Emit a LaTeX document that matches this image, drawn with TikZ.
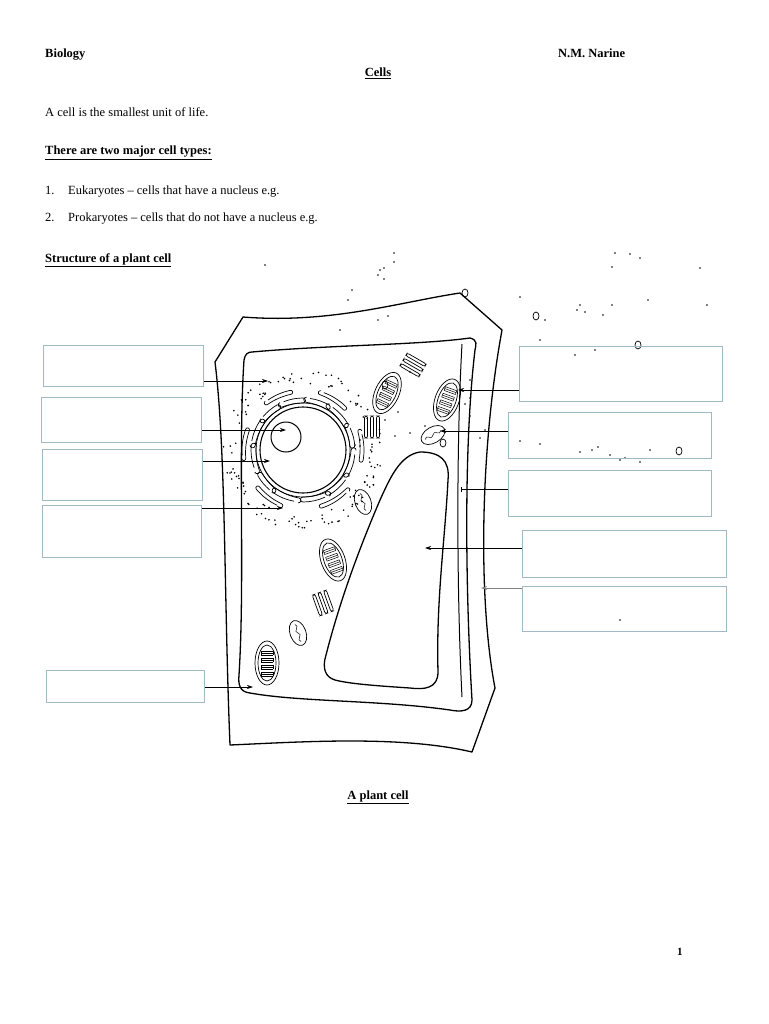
\documentclass[tikz,border=0pt]{standalone}
\usepackage{fontspec}
\setmainfont{Liberation Serif}
\usetikzlibrary{arrows.meta}
\begin{document}
\begin{tikzpicture}[x=1pt,y=-1pt,
  lbox/.style={draw=blue!30!cyan!25!gray!60, line width=1pt, inner sep=0pt, anchor=north west},
  ptr/.style={-{Stealth[length=6pt,width=4pt]}, line width=0.7pt},
  cellline/.style={line width=1.3pt, line join=round},
  org/.style={line width=0.7pt},
  txt/.style={anchor=base west, inner sep=0pt, font=\fontsize{12.5}{14}\selectfont},
  btxt/.style={txt, font=\fontsize{12.5}{14}\selectfont\bfseries}]
\useasboundingbox (0,0) rectangle (768,1024);
\fill[white] (0,0) rectangle (768,1024);
% texts
\node[btxt] (bio) at (45,58) {Biology};
\node[btxt] (nmn) at (558,58) {N.M. Narine};
\node[btxt, anchor=base] (cells) at (378,77) {\underline{Cells}};
\node[txt] (def) at (45,117) {A cell is the smallest unit of life.};
\node[btxt] (types) at (45,155) {\underline{There are two major cell types:}};
\node[txt] (n1) at (45,195) {1.};
\node[txt] (e1) at (68,195) {Eukaryotes -- cells that have a nucleus e.g.};
\node[txt] (n2) at (45,222) {2.};
\node[txt] (e2) at (68,222) {Prokaryotes -- cells that do not have a nucleus e.g.};
\node[btxt] (struct) at (45,262) {\underline{Structure of a plant cell}};
\node[btxt, anchor=base] (cap) at (378,799) {\underline{A plant cell}};
\node[btxt, font=\fontsize{11}{13}\selectfont\bfseries] (pg) at (677,955) {1};
% cell wall
\draw[cellline] (243,317) .. controls (330,324) and (400,302) .. (460,293) -- (502,330)
  .. controls (480,450) and (478,600) .. (495,688) -- (472,752)
  .. controls (400,735) and (300,742) .. (230,745)
  .. controls (224,600) and (226,450) .. (215,362) -- cycle;
% membrane
\draw[cellline] (252,352) .. controls (330,345) and (420,345) .. (470,338)
  .. controls (478,340) and (476,345) .. (475,350)
  .. controls (463,450) and (466,600) .. (472,700)
  .. controls (472,712) and (460,712) .. (450,710)
  .. controls (380,700) and (300,702) .. (250,693)
  .. controls (240,692) and (238,685) .. (239,675)
  .. controls (245,580) and (238,450) .. (244,360)
  .. controls (245,354) and (248,352) .. (252,352);
\draw[line width=1pt] (462,344) .. controls (456,450) and (457,600) .. (462,697);
% vacuole
\draw[cellline] (420,452) .. controls (440,452) and (450,460) .. (448,480)
  .. controls (445,540) and (436,600) .. (438,672)
  .. controls (438,688) and (425,690) .. (410,688)
  .. controls (380,686) and (350,684) .. (335,680)
  .. controls (325,677) and (322,668) .. (326,655)
  .. controls (335,620) and (350,570) .. (380,500)
  .. controls (390,478) and (400,455) .. (420,452);
% nucleus
\draw[line width=1.1pt] (303,450) circle (43);
\draw[org] (303,450) circle (47);
\draw[line width=1pt] (286,437) circle (15);
% ER around nucleus
\foreach \a/\b in {100/125,130/150,160/185,190/215,220/240,248/270,278/300,305/330,335/355,5/30,35/60,65/90}{
  \draw[org] (303,450) ++(\a:52) arc (\a:\b:52) arc(\b:\b+180:2.5) arc (\b:\a:57) arc (\a+180:\a+360:2.5);
}
\foreach \a/\b in {115/140,175/200,235/258,290/315,345/370,45/72}{
  \draw[org] (303,450) ++(\a:61) arc (\a:\b:61) arc(\b:\b+180:2) arc (\b:\a:65) arc (\a+180:\a+360:2);
}
% ribosome dots
\pgfmathsetseed{7}
\foreach \i in {1,...,130}{
  \pgfmathsetmacro\ang{rnd*360}
  \pgfmathsetmacro\rad{66+rnd*14}
  \fill (303,450) ++(\ang:\rad) circle (0.9);
}
\foreach \x/\y in {265,380/270,384/268,378/275,384/279,378/320,388/316,394/262,700/268,707/305,630/254,612/267,615/253,620/460,640/462,650/450,610/455,625/458,580/452,598/447,540/444,520/441,425/426,385/420,372/447,410/433,480/438,470/416,398/412,394/253,640/258,648/300,580/305,585/312,577/310,595/350,575/355,592/450,360/446,355/445,395/436,410/372,470/380,465/404,470/398,485/430,360/440,352/290,348/300,340/330,540/340,545/320,520/297,603/315,612/305,620}{
  \fill (\x,\y) circle (0.9);
}
% chloroplasts
\foreach \cx/\cy/\rot in {387/393/-25, 447/400/-20, 333/560/20, 267/663/0}{
  \begin{scope}[shift={(\cx,\cy)}, rotate=\rot]
    \draw[org] (0,0) ellipse (12 and 22);
    \draw[org] (0,0) ellipse (9 and 18);
    \foreach \yy in {-12,-5,2,9}{
      \foreach \k in {0,2,4}{\draw[line width=0.5pt] (-6,\yy+\k) -- (6,\yy+\k);}
      \draw[line width=0.5pt] (-6,\yy) -- (-6,\yy+4) (6,\yy) -- (6,\yy+4);
    }
  \end{scope}
}
% mitochondria
\foreach \cx/\cy/\rot in {433/435/-60, 363/502/20, 298/633/20}{
  \begin{scope}[shift={(\cx,\cy)}, rotate=\rot]
    \draw[org] (0,0) ellipse (8 and 13);
    \draw[line width=0.5pt] (0,-9) .. controls (5,-6) and (-5,-3) .. (0,0) .. controls (5,3) and (-5,6) .. (0,9);
  \end{scope}
}
% golgi
\foreach \cx/\cy/\rot in {413/365/60, 372/427/0, 323/603/20}{
  \begin{scope}[shift={(\cx,\cy)}, rotate=\rot]
    \foreach \xx in {-6,0,6}{
      \draw[org, rounded corners=2pt] (\xx-1.5,-11) rectangle (\xx+1.5,11);
    }
  \end{scope}
}
% small vesicles
\foreach \x/\y in {385,465/293,536/316,679/451,638/345,443}{
  \draw[org] (\x,\y) ellipse (3 and 4);
}
% label boxes
\node[lbox, minimum width=160pt, minimum height=41pt] (L1) at (43,345) {};
\node[lbox, minimum width=160pt, minimum height=45pt] (L2) at (41,397) {};
\node[lbox, minimum width=160pt, minimum height=51pt] (L3) at (42,449) {};
\node[lbox, minimum width=159pt, minimum height=52pt] (L4) at (42,505) {};
\node[lbox, minimum width=158pt, minimum height=32pt] (L5) at (46,670) {};
\node[lbox, minimum width=203pt, minimum height=55pt] (R1) at (519,346) {};
\node[lbox, minimum width=203pt, minimum height=46pt] (R2) at (508,412) {};
\node[lbox, minimum width=203pt, minimum height=46pt] (R3) at (508,470) {};
\node[lbox, minimum width=204pt, minimum height=47pt] (R4) at (522,530) {};
\node[lbox, minimum width=204pt, minimum height=45pt] (R5) at (522,586) {};
% targets
\coordinate (t1) at (268,381);
\coordinate (t2) at (286,430);
\coordinate (t3) at (270,461);
\coordinate (t4) at (283,508);
\coordinate (t5) at (253,687);
\coordinate (u1) at (458,390);
\coordinate (u2) at (440,431);
\coordinate (u3) at (461,489);
\coordinate (u4) at (425,548);
\coordinate (u5) at (481,588);
\draw[ptr] (t1 -| L1.east) -- (t1);
\draw[ptr] (t2 -| L2.east) -- (t2);
\draw[ptr] (t3 -| L3.east) -- (t3);
\draw[ptr] (t4 -| L4.east) -- (t4);
\draw[ptr] (t5 -| L5.east) -- (t5);
\draw[ptr] (u1 -| R1.west) -- (u1);
\draw[ptr] (u2 -| R2.west) -- (u2);
\draw[line width=0.7pt, -{Bar[width=5pt]}] (u3 -| R3.west) -- (u3);
\draw[ptr] (u4 -| R4.west) -- (u4);
\draw[ptr, draw=gray] (u5 -| R5.west) -- (u5);
\end{tikzpicture}
\end{document}
